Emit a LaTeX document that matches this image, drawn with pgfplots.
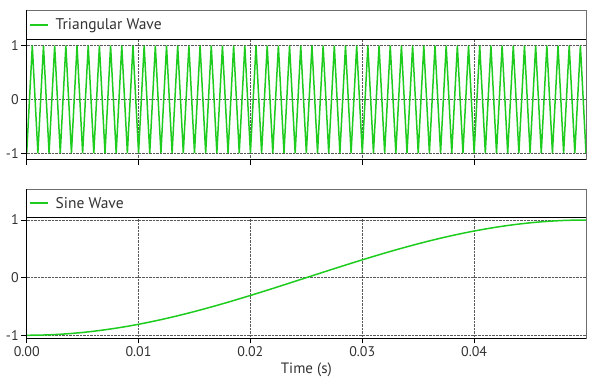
\documentclass[border=0pt]{standalone}
\usepackage{pgfplots}
\pgfplotsset{compat=1.18}
\usepackage{pgfplotstable}
\usepackage{fontspec}
\setmainfont{PT Sans}
\definecolor{wave}{RGB}{30,204,30}
\definecolor{txt}{RGB}{50,50,50}
\definecolor{frame}{RGB}{110,110,110}
\pgfplotstableread{
t y
0.0000 -1
0.0005 1
0.0010 -1
0.0015 1
0.0020 -1
0.0025 1
0.0030 -1
0.0035 1
0.0040 -1
0.0045 1
0.0050 -1
0.0055 1
0.0060 -1
0.0065 1
0.0070 -1
0.0075 1
0.0080 -1
0.0085 1
0.0090 -1
0.0095 1
0.0100 -1
0.0105 1
0.0110 -1
0.0115 1
0.0120 -1
0.0125 1
0.0130 -1
0.0135 1
0.0140 -1
0.0145 1
0.0150 -1
0.0155 1
0.0160 -1
0.0165 1
0.0170 -1
0.0175 1
0.0180 -1
0.0185 1
0.0190 -1
0.0195 1
0.0200 -1
0.0205 1
0.0210 -1
0.0215 1
0.0220 -1
0.0225 1
0.0230 -1
0.0235 1
0.0240 -1
0.0245 1
0.0250 -1
0.0255 1
0.0260 -1
0.0265 1
0.0270 -1
0.0275 1
0.0280 -1
0.0285 1
0.0290 -1
0.0295 1
0.0300 -1
0.0305 1
0.0310 -1
0.0315 1
0.0320 -1
0.0325 1
0.0330 -1
0.0335 1
0.0340 -1
0.0345 1
0.0350 -1
0.0355 1
0.0360 -1
0.0365 1
0.0370 -1
0.0375 1
0.0380 -1
0.0385 1
0.0390 -1
0.0395 1
0.0400 -1
0.0405 1
0.0410 -1
0.0415 1
0.0420 -1
0.0425 1
0.0430 -1
0.0435 1
0.0440 -1
0.0445 1
0.0450 -1
0.0455 1
0.0460 -1
0.0465 1
0.0470 -1
0.0475 1
0.0480 -1
0.0485 1
0.0490 -1
0.0495 1
0.0500 -1
}\tri
\pgfplotstableread{
t y
0.000 -1.00000
0.001 -0.99803
0.002 -0.99211
0.003 -0.98229
0.004 -0.96858
0.005 -0.95106
0.006 -0.92978
0.007 -0.90483
0.008 -0.87631
0.009 -0.84433
0.010 -0.80902
0.011 -0.77051
0.012 -0.72897
0.013 -0.68455
0.014 -0.63742
0.015 -0.58779
0.016 -0.53583
0.017 -0.48175
0.018 -0.42578
0.019 -0.36812
0.020 -0.30902
0.021 -0.24869
0.022 -0.18738
0.023 -0.12533
0.024 -0.06279
0.025 0.00000
0.026 0.06279
0.027 0.12533
0.028 0.18738
0.029 0.24869
0.030 0.30902
0.031 0.36812
0.032 0.42578
0.033 0.48175
0.034 0.53583
0.035 0.58779
0.036 0.63742
0.037 0.68455
0.038 0.72897
0.039 0.77051
0.040 0.80902
0.041 0.84433
0.042 0.87631
0.043 0.90483
0.044 0.92978
0.045 0.95106
0.046 0.96858
0.047 0.98229
0.048 0.99211
0.049 0.99803
0.050 1.00000
}\sine
\pgfplotsset{
  panel/.style={
    scale only axis,
    width=559.3pt,
    xmin=0, xmax=0.05,
    axis line style={draw=frame, line width=0.8pt},
    xtick={0,0.01,0.02,0.03,0.04},
    ytick={-1,0,1},
    scaled x ticks=false,
    tick align=outside,
    xtick pos=bottom, ytick pos=left,
    major tick length=5.5pt,
    tick style={black, line width=0.6pt},
    grid=major,
    major grid style={densely dotted, black!65, line width=0.7pt},
    ticklabel style={font=\fontsize{14}{16}\selectfont, text=txt},
    /pgf/number format/assume math mode=true,
    yticklabel style={xshift=1pt},
    legend style={draw=none, fill=none, font=\fontsize{15.5}{17}\selectfont, text=txt,
      at={(axis description cs:0,1)}, anchor=west, inner xsep=1pt, xshift=1.5pt},
    legend cell align=left,
    legend image code/.code={\draw[#1, line width=1.8pt] (0pt,0pt) -- (18pt,0pt);},
  },
}
\begin{document}
\begin{tikzpicture}[x=1pt,y=1pt]
\useasboundingbox (0,0) rectangle (600,387);
\begin{axis}[panel, name=top,
  at={(26.7pt,227.7pt)}, anchor=south west,
  height=120pt,
  ymin=-1.115, ymax=1.118,
  xticklabels={},
  legend style={yshift=14.6pt},
]
\addplot[wave, line width=1.5pt] table[x=t, y=y] {\tri};
\addlegendentry{\hspace*{4.5pt}Triangular Wave}
\end{axis}
\draw[frame, line width=0.8pt] (top.north west) -- ++(0,29.3) -| (top.north east);
\draw[black, line width=0.8pt] ([yshift=29.3pt]top.north west) -- (top.south west) -- (top.south east);
\draw[black, line width=0.8pt] (top.north west) -- (top.north east);
\begin{axis}[panel, name=bot,
  at={(26.7pt,49pt)}, anchor=south west,
  height=120.7pt,
  ymin=-1.047, ymax=1.047,
  xticklabel style={/pgf/number format/.cd, fixed, fixed zerofill, precision=2},
  xlabel={Time (s)},
  xlabel style={font=\fontsize{15}{17}\selectfont, text=txt, yshift=1pt},
  legend style={yshift=14pt},
]
\addplot[wave, line width=1.5pt] table[x=t, y=y] {\sine};
\addlegendentry{\hspace*{4.5pt}Sine Wave}
\end{axis}
\draw[frame, line width=0.8pt] (bot.north west) -- ++(0,28) -| (bot.north east);
\draw[black, line width=0.8pt] ([yshift=28pt]bot.north west) -- (bot.south west) -- (bot.south east);
\draw[black, line width=0.8pt] (bot.north west) -- (bot.north east);
\end{tikzpicture}
\end{document}
